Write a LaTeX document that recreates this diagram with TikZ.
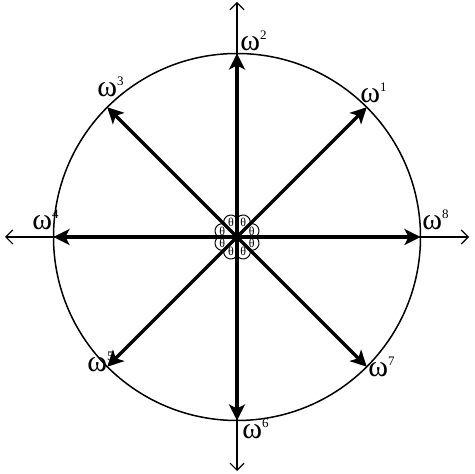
\documentclass[tikz,border=0pt]{standalone}
\usepackage{fontspec}
\setmainfont{Liberation Serif}
\usetikzlibrary{arrows.meta}

\tikzset{
  axis/.style={line width=0.6pt, -{Straight Barb[length=3.5pt,width=7pt]}},
  root/.style={line width=1.6pt, -{Stealth[length=8pt,width=8pt,inset=2pt]}},
  wlabel/.style={inner sep=0pt, anchor=base west, font=\fontsize{15}{16}\selectfont},
  tlabel/.style={inner sep=0pt, font=\fontsize{6}{6}\selectfont}
}
\newcommand{\wpow}[1]{ω\raisebox{5.5pt}{\fontsize{6.5}{7}\selectfont #1}}

\begin{document}
\begin{tikzpicture}[x=1pt,y=1pt]
\useasboundingbox (-118.5,-118.5) rectangle (118.5,118.5);

\coordinate (O) at (0,0);
\coordinate (xl) at (-116,0);
\coordinate (xr) at (116,0);
\coordinate (yb) at (0,-117);
\coordinate (yt) at (0,117.5);

% axes
\draw[axis] (O) -- (xl);
\draw[axis] (O) -- (xr);
\draw[axis] (O) -- (yb);
\draw[axis] (O) -- (yt);

% unit circle
\draw[line width=0.75pt] (O) circle (91.75);

% roots
\foreach \k in {1,...,8}
  \coordinate (w\k) at ({45*\k}:91.75);
\foreach \k in {1,...,8}
  \draw[root] (O) -- (w\k);

% angles
\foreach \k in {0,...,7} {
  \node[tlabel] (t\k) at ({22.5+45*\k}:8) {θ};
  \draw[line width=0.5pt] (t\k.center) ++({22.5+45*\k-83}:3.6) arc ({22.5+45*\k-83}:{22.5+45*\k+83}:3.6);
}

% labels
\node[wlabel] (l1) at (61.5,67) {\wpow{1}};
\node[wlabel] (l2) at (1.5,93) {\wpow{2}};
\node[wlabel] (l3) at (-70,70) {\wpow{3}};
\node[wlabel] (l4) at (-102.5,3.5) {\wpow{4}};
\node[wlabel] (l5) at (-75,-67.5) {\wpow{5}};
\node[wlabel] (l6) at (2.5,-100.5) {\wpow{6}};
\node[wlabel] (l7) at (65.5,-70) {\wpow{7}};
\node[wlabel] (l8) at (92.5,3.5) {\wpow{8}};

\end{tikzpicture}
\end{document}
